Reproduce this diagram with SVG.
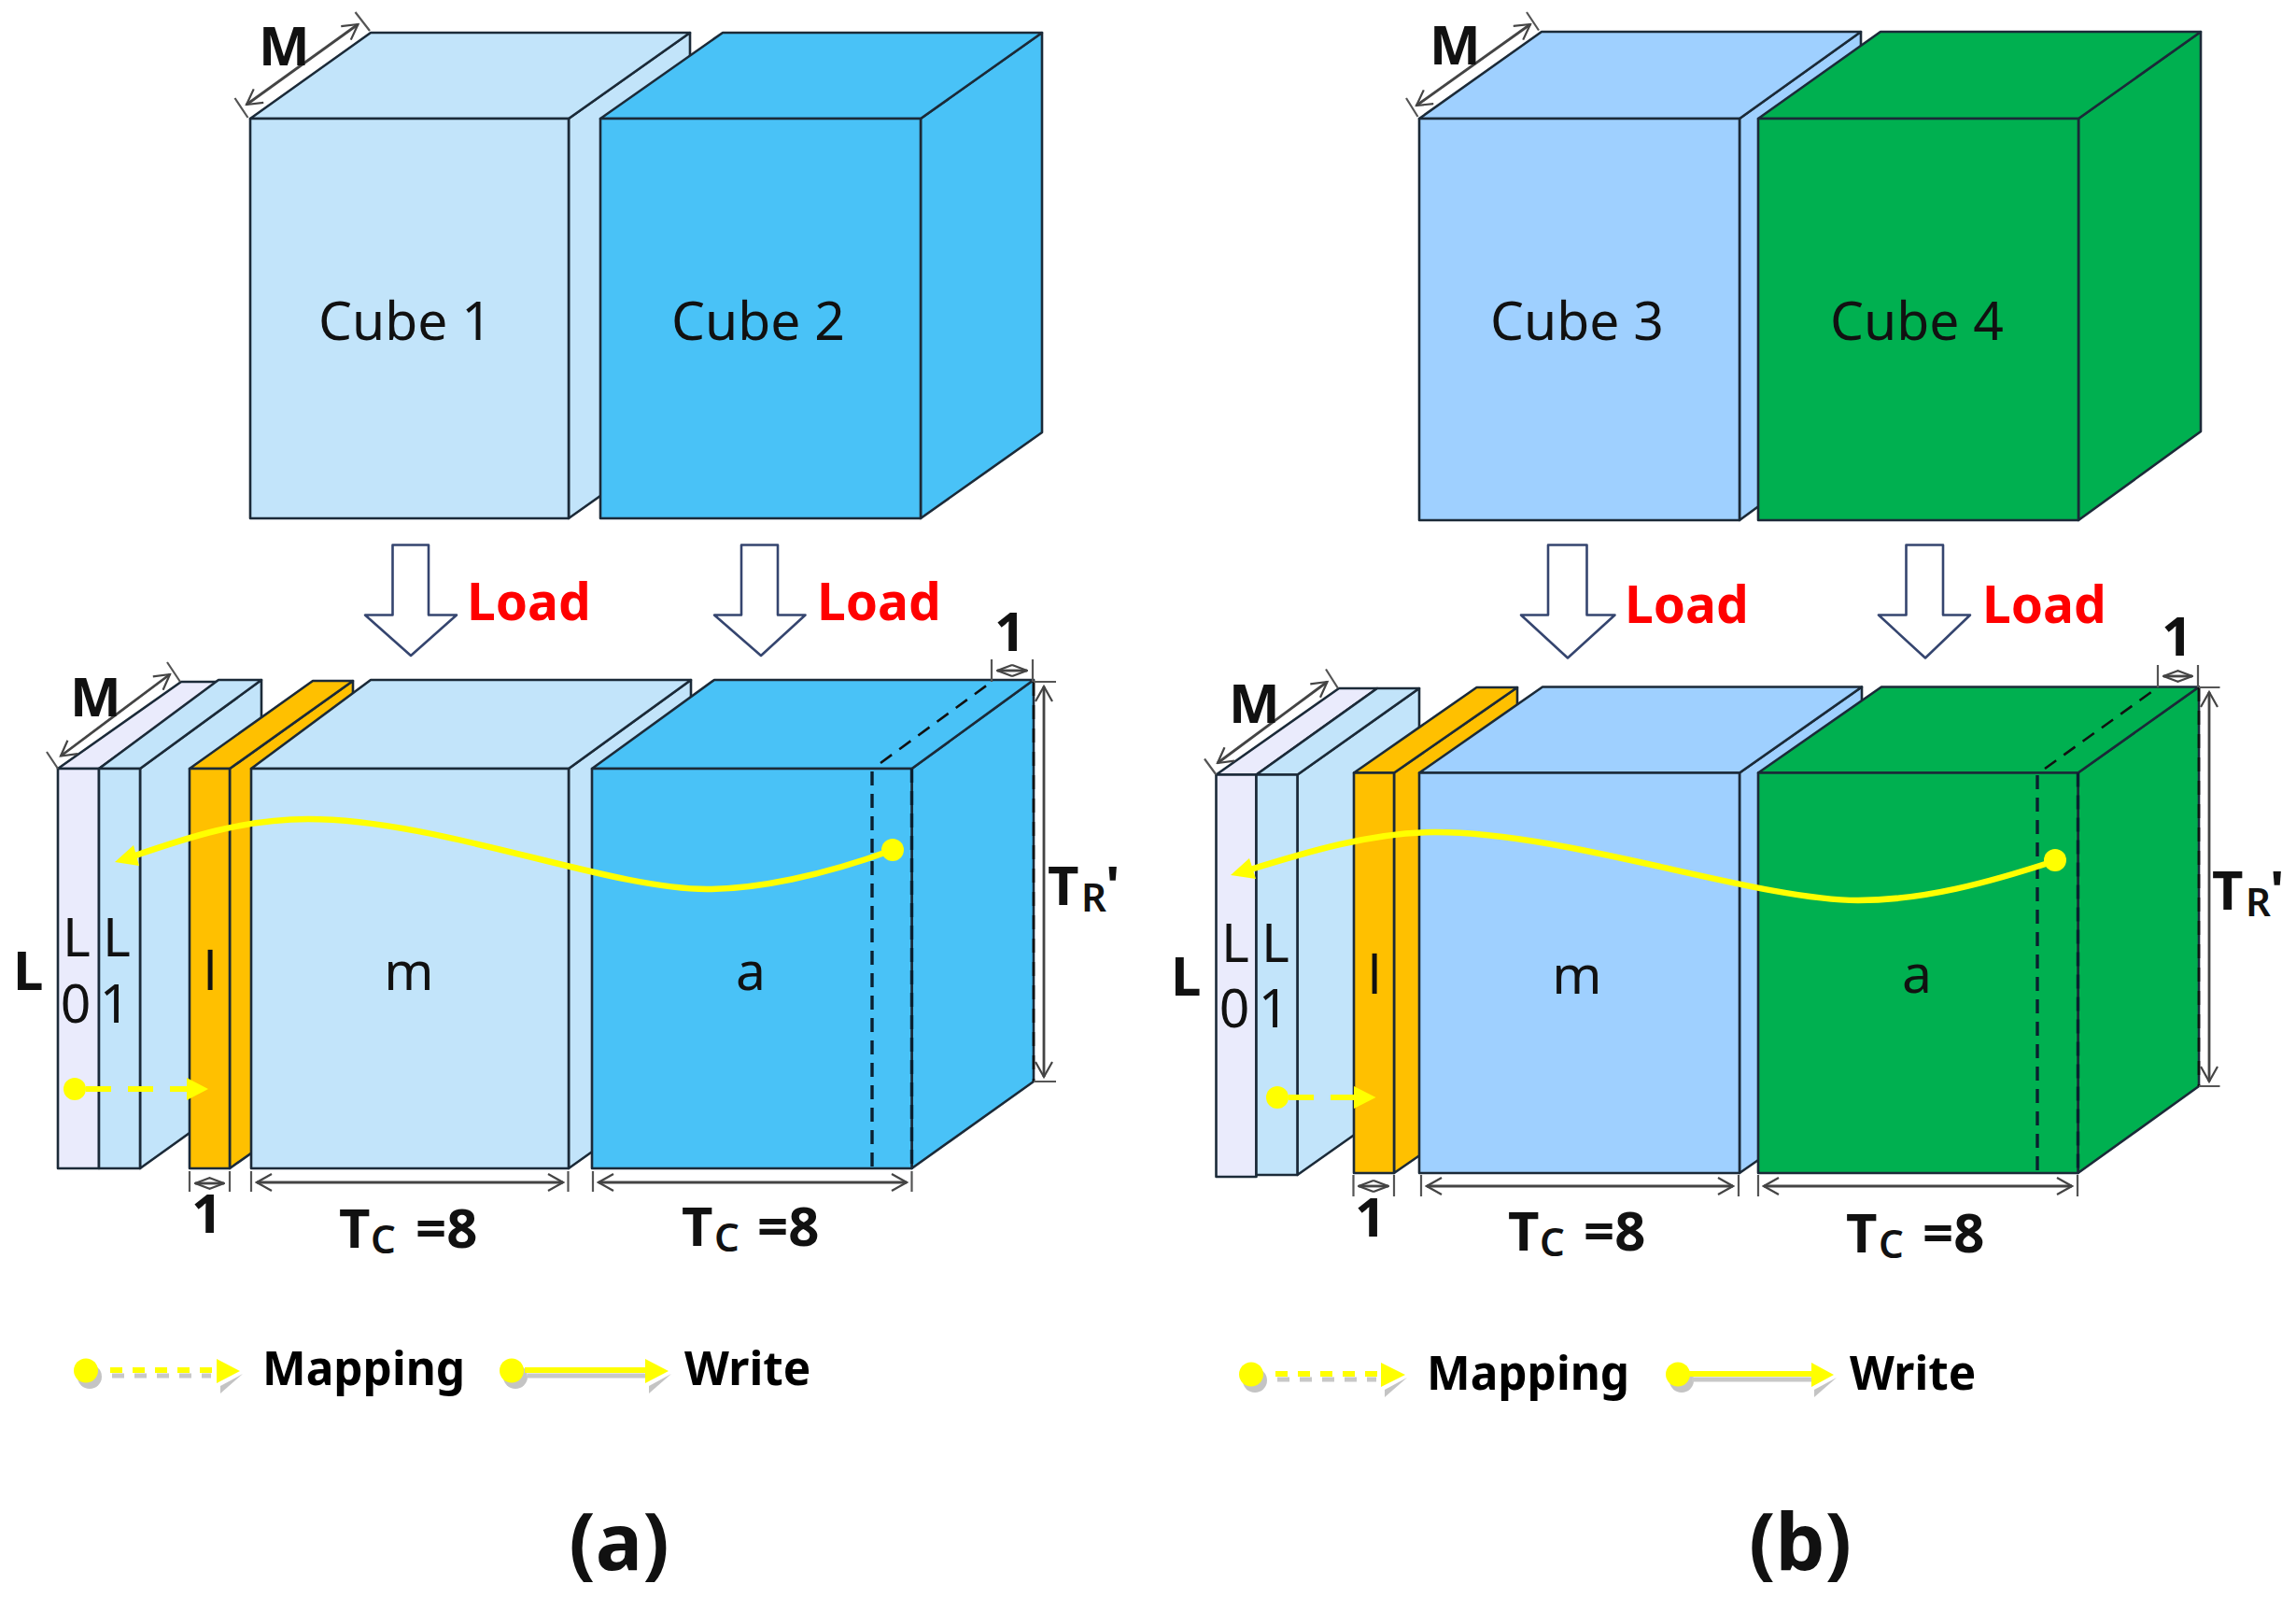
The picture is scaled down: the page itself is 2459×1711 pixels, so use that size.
<svg xmlns="http://www.w3.org/2000/svg" width="2459" height="1711" viewBox="0 0 2459 1711">
<style>
text{font-family:"Noto Sans","Open Sans","Liberation Sans",sans-serif;fill:#111}
.n{font-size:57px;text-anchor:middle}
.b{font-size:58px;font-weight:700}
.sub{font-size:42px;font-weight:600}
.load{font-size:55px;font-weight:700;fill:#ff0000}
.leg{font-size:49.500px;font-weight:700;fill:#000}
.cap{font-size:84px;font-weight:700;text-anchor:middle;fill:#111}
.e{stroke:#1b2a38;stroke-width:2.6;stroke-linejoin:round}
.lav{fill:#eaebfc}.lb{fill:#c2e4fa}.mb{fill:#49c2f7}.or{fill:#ffc000}.gr{fill:#00b050}.sk{fill:#9fd0ff}
.dash{fill:none;stroke:#111;stroke-width:2.6;stroke-dasharray:15 10}
.dk{fill:none;stroke:#0a2030;stroke-width:3.4;stroke-dasharray:15 9}
.blk{fill:#fff;stroke:#35456f;stroke-width:2.6;stroke-linejoin:round}
.dim{fill:none;stroke:#444;stroke-width:2.8;marker-start:url(#op);marker-end:url(#op)}
.dims{fill:none;stroke:#444;stroke-width:2.8;marker-start:url(#ops);marker-end:url(#ops)}
.tick{fill:none;stroke:#555;stroke-width:2.2}
.y{fill:#ffff00;stroke:none}
.wr{fill:none;stroke:#ffff00;stroke-width:6.500}
.map{fill:none;stroke:#ffff00;stroke-width:6;stroke-dasharray:27 18}
.ly{fill:none;stroke:#ffff00;stroke-width:6}
.lyd{fill:none;stroke:#ffff00;stroke-width:6;stroke-dasharray:13 11}
.gy{fill:#c4c4c4;stroke:none}
.lg{fill:none;stroke:#c8c8c8;stroke-width:5}
.lgd{fill:none;stroke:#c8c8c8;stroke-width:5;stroke-dasharray:13 11}
</style>
<defs>
<marker id="op" viewBox="-17 -10 19 20" refX="0" refY="0" markerWidth="19" markerHeight="20" markerUnits="userSpaceOnUse" orient="auto-start-reverse"><path d="M-16-9 0 0-16 9" fill="none" stroke="#444" stroke-width="2.2"/></marker>
<marker id="ops" viewBox="-17 -7 18 14" refX="0" refY="0" markerWidth="18" markerHeight="14" markerUnits="userSpaceOnUse" orient="auto-start-reverse"><path d="M-16-6 0 0-16 6" fill="none" stroke="#444" stroke-width="2.2"/></marker>
</defs>

<g id="cube1">
<polygon class="lb e" points="609,127 739,35 739,463 609,555"/>
<polygon class="lb e" points="268,127 397,35 739,35 609,127"/>
<rect class="lb e" x="268" y="127" width="341" height="428"/>
<text class="n" x="434" y="364">Cube 1</text>
</g>
<g id="cube2">
<polygon class="mb e" points="986,127 1116,35 1116,463 986,555"/>
<polygon class="mb e" points="643,127 774,35 1116,35 986,127"/>
<rect class="mb e" x="643" y="127" width="343" height="428"/>
<text class="n" x="812" y="364">Cube 2</text>
</g>
<g id="cube3">
<polygon class="sk e" points="1863,127 1993,34 1993,462 1863,557"/>
<polygon class="sk e" points="1520,127 1651,34 1993,34 1863,127"/>
<rect class="sk e" x="1520" y="127" width="343" height="430"/>
<text class="n" x="1689" y="364">Cube 3</text>
</g>
<g id="cube4">
<polygon class="gr e" points="2226,127 2357,34 2357,462 2226,557"/>
<polygon class="gr e" points="1883,127 2014,34 2357,34 2226,127"/>
<rect class="gr e" x="1883" y="127" width="343" height="430"/>
<text class="n" x="2053" y="364">Cube 4</text>
</g>

<g id="load-a1"><polygon class="blk" points="420.5,583.5 459,583.5 459,658.5 489,658.5 440,702 391,658.5 420.5,658.5"/><text class="load" x="500" y="664">Load</text></g>
<g id="load-a2"><polygon class="blk" points="794,583.5 833,583.5 833,658.5 862.5,658.5 815,702 765,658.5 794,658.5"/><text class="load" x="875" y="664">Load</text></g>
<g id="load-b1"><polygon class="blk" points="1658,583.5 1699.5,583.5 1699.5,658.5 1729.5,658.5 1679,704.5 1629,658.5 1658,658.5"/><text class="load" x="1740" y="667">Load</text></g>
<g id="load-b2"><polygon class="blk" points="2041.5,583.5 2081,583.5 2081,658.5 2110,658.5 2062,704.5 2012,658.5 2041.5,658.5"/><text class="load" x="2123" y="667">Load</text></g>

<g id="a-L0">
<polygon class="lav e" points="62,823 194,730 234,730 106,823"/>
<rect class="lav e" x="62" y="823" width="44" height="428"/>
<text class="n" x="82" y="1024">L</text><text class="n" x="81" y="1095">0</text>
</g>
<g id="a-L1">
<polygon class="lb e" points="150,823 280,728 280,1158 150,1251"/>
<polygon class="lb e" points="106,823 234,728 280,728 150,823"/>
<rect class="lb e" x="106" y="823" width="44" height="428"/>
<text class="n" x="125" y="1024">L</text><text class="n" x="123" y="1095">1</text>
</g>
<g id="a-l">
<polygon class="or e" points="246,823 378,729 378,1158 246,1251"/>
<polygon class="or e" points="203,823 335,729 378,729 246,823"/>
<rect class="or e" x="203" y="823" width="43" height="428"/>
<text class="n" x="225" y="1060">l</text>
</g>
<g id="a-m">
<polygon class="lb e" points="609,823 740,728 740,1158 609,1251"/>
<polygon class="lb e" points="269,823 397,728 740,728 609,823"/>
<rect class="lb e" x="269" y="823" width="340" height="428"/>
<text class="n" x="438" y="1060">m</text>
</g>
<g id="a-a">
<polygon class="mb e" points="976.5,823 1107,728 1107,1158 976.5,1251"/>
<polygon class="mb e" points="634,823 765,728 1107,728 976.5,823"/>
<rect class="mb e" x="634" y="823" width="342.500" height="428"/>
<path class="dash" d="M943 817 1062 730"/>
<path class="dk" d="M934 826V1249"/>
<path class="dk" d="M976.500 823V1251"/>
<path class="dash" d="M1107 730V1158"/>
<text class="n" x="804" y="1060">a</text>
</g>

<g id="b-L0">
<polygon class="lav e" points="1302.500,829.500 1434,737 1475,737 1345.500,829.500"/>
<rect class="lav e" x="1302.500" y="829.500" width="43" height="430.500"/>
<text class="n" x="1323" y="1030">L</text><text class="n" x="1322" y="1100">0</text>
</g>
<g id="b-L1">
<polygon class="lb e" points="1389.500,829.500 1520,737 1520,1166 1389.500,1258"/>
<polygon class="lb e" points="1345.500,829.500 1475,737 1520,737 1389.500,829.500"/>
<rect class="lb e" x="1345.500" y="829.500" width="44" height="428.500"/>
<text class="n" x="1366" y="1030">L</text><text class="n" x="1364" y="1100">1</text>
</g>
<g id="b-l">
<polygon class="or e" points="1493,827.500 1625,736 1625,1165 1493,1256"/>
<polygon class="or e" points="1450,827.500 1581.500,736 1625,736 1493,827.500"/>
<rect class="or e" x="1450" y="827.500" width="43" height="428.500"/>
<text class="n" x="1472" y="1064">l</text>
</g>
<g id="b-m">
<polygon class="sk e" points="1863,827.500 1994,735.500 1994,1165 1863,1256"/>
<polygon class="sk e" points="1520,827.500 1652,735.500 1994,735.500 1863,827.500"/>
<rect class="sk e" x="1520" y="827.500" width="343" height="428.500"/>
<text class="n" x="1689" y="1064">m</text>
</g>
<g id="b-a">
<polygon class="gr e" points="2225.500,827.500 2355,735.500 2355,1163 2225.500,1256"/>
<polygon class="gr e" points="1883,827.500 2015,735.500 2355,735.500 2225.500,827.500"/>
<rect class="gr e" x="1883" y="827.500" width="342.500" height="428.500"/>
<path class="dash" d="M2190 823 2311 736"/>
<path class="dk" d="M2182 830V1254"/>
<path class="dk" d="M2225.500 827.500V1256"/>
<path class="dash" d="M2355 736V1163"/>
<text class="n" x="2053" y="1063">a</text>
</g>

<g id="connectors">
<path class="wr" d="M956 910C880 938 810 952 757 952C650 952 470 877 330 877C260 877 200 897 142 917"/>
<polygon class="y" points="123,923 143,905 149,927"/>
<circle class="y" cx="956" cy="910" r="12"/>
<path class="map" d="M92 1166H200"/>
<polygon class="y" points="223,1166 200,1154 200,1178"/>
<circle class="y" cx="80" cy="1166" r="12"/>

<path class="wr" d="M2200 922C2130 945 2060 964 1990 964C1880 964 1680 891 1537 891C1470 891 1400 912 1336 932"/>
<polygon class="y" points="1318,937 1338,919 1345,941"/>
<circle class="y" cx="2201" cy="921" r="12"/>
<path class="map" d="M1380 1175H1450"/>
<polygon class="y" points="1473.500,1175 1450,1163 1450,1187"/>
<circle class="y" cx="1368" cy="1175" r="12"/>

<g id="dims-a">
<path class="tick" d="M251.500 105 265.500 126M380.500 13 396 33"/>
<path class="dim" d="M264 112 383.500 26"/>
<path class="tick" d="M50 805 62 823M179 709 193 730"/>
<path class="dim" d="M65 809.500 182 722"/>
<path class="tick" d="M203 1254V1276M246 1254V1276"/>
<path class="dims" d="M209 1267H240"/>
<path class="tick" d="M269 1254V1276M608.500 1254V1276"/>
<path class="dim" d="M275 1266H603"/>
<path class="tick" d="M635 1254V1276M976.500 1254V1276"/>
<path class="dim" d="M641 1266H971"/>
<path class="tick" d="M1062 706V730M1106 706V730"/>
<path class="dims" d="M1068 718H1100"/>
<path class="tick" d="M1107 730H1131M1107 1158H1131"/>
<path class="dim" d="M1118 735V1153"/>
</g>
<g id="dims-b">
<path class="tick" d="M1506 105 1518.500 125M1635 13 1648 32.500"/>
<path class="dim" d="M1517 113 1639 26"/>
<path class="tick" d="M1290 812.500 1302.500 829.500M1420 716.500 1433 737"/>
<path class="dim" d="M1304 817 1421.500 730"/>
<path class="tick" d="M1449.500 1258V1281M1493 1258V1281"/>
<path class="dims" d="M1455 1270H1487"/>
<path class="tick" d="M1522 1258V1281M1862 1258V1281"/>
<path class="dim" d="M1528 1270H1856"/>
<path class="tick" d="M1883 1258V1281M2225 1258V1281"/>
<path class="dim" d="M1889 1270H2219"/>
<path class="tick" d="M2311 712V736M2354 712V736"/>
<path class="dims" d="M2317 724H2348"/>
<path class="tick" d="M2355 736H2377.500M2355 1163H2377.500"/>
<path class="dim" d="M2366 741V1158"/>
</g>
</g>

<g id="labels-a">
<text class="b" x="277" y="70">M</text>
<text class="b" x="75" y="767">M</text>
<text class="b" x="14" y="1060">L</text>
<text class="b" x="205" y="1320">1</text>
<text class="b" x="1065" y="697">1</text>
<text class="b" x="363" y="1336">T<tspan class="sub" x="397" y="1342">C</tspan><tspan x="445" y="1336">=8</tspan></text>
<text class="b" x="730" y="1334">T<tspan class="sub" x="765" y="1340">C</tspan><tspan x="811" y="1334">=8</tspan></text>
<text class="b" x="1122" y="969">T<tspan class="sub" x="1158" y="976" font-weight="700">R</tspan><tspan x="1184" y="969">'</tspan></text>
</g>
<g id="labels-b">
<text class="b" x="1531" y="69">M</text>
<text class="b" x="1316" y="774">M</text>
<text class="b" x="1254" y="1066">L</text>
<text class="b" x="1451" y="1324">1</text>
<text class="b" x="2315" y="702">1</text>
<text class="b" x="1615" y="1339">T<tspan class="sub" x="1649" y="1345">C</tspan><tspan x="1696" y="1339">=8</tspan></text>
<text class="b" x="1977" y="1341">T<tspan class="sub" x="2012" y="1347">C</tspan><tspan x="2059" y="1341">=8</tspan></text>
<text class="b" x="2369" y="974">T<tspan class="sub" x="2405" y="981" font-weight="700">R</tspan><tspan x="2431" y="974">'</tspan></text>
</g>

<g id="legend-a">
<circle class="gy" cx="96" cy="1474" r="13"/><path class="lgd" d="M120 1473H226"/><polygon class="gy" points="236,1484 260,1471 236,1492"/>
<path class="lyd" d="M118 1467H228"/><polygon class="y" points="232,1455 257,1468 232,1481"/><circle class="y" cx="92" cy="1467.500" r="13"/>
<text class="leg" x="281" y="1483">Mapping</text>
<circle class="gy" cx="552" cy="1474" r="13"/><path class="lg" d="M565 1473H692"/><polygon class="gy" points="695,1484 719,1471 695,1492"/>
<path class="ly" d="M562 1467H695"/><polygon class="y" points="691,1455 716,1468 691,1481"/><circle class="y" cx="548" cy="1467.500" r="13"/>
<text class="leg" x="733" y="1483">Write</text>
</g>
<g id="legend-b">
<circle class="gy" cx="1344" cy="1478" r="13"/><path class="lgd" d="M1368 1477H1474"/><polygon class="gy" points="1483,1488 1507,1475 1483,1496"/>
<path class="lyd" d="M1366 1471H1476"/><polygon class="y" points="1479,1459 1505,1472 1479,1485"/><circle class="y" cx="1340" cy="1471.500" r="13"/>
<text class="leg" x="1528" y="1488">Mapping</text>
<circle class="gy" cx="1801" cy="1478" r="13"/><path class="lg" d="M1812 1477H1940"/><polygon class="gy" points="1943,1488 1967,1475 1943,1496"/>
<path class="ly" d="M1808 1471H1942"/><polygon class="y" points="1940,1459 1964,1472 1940,1485"/><circle class="y" cx="1797" cy="1471.500" r="13"/>
<text class="leg" x="1981" y="1488">Write</text>
</g>
<text class="cap" x="663" y="1681">(a)</text>
<text class="cap" x="1928" y="1681">(b)</text>
</svg>
